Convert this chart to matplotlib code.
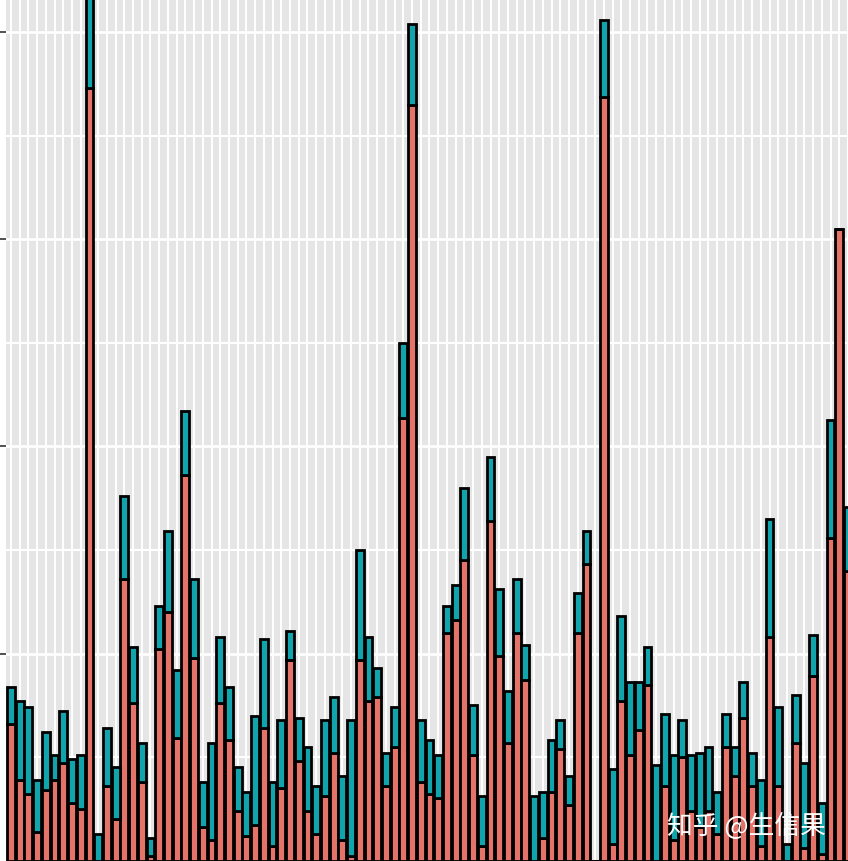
import matplotlib.pyplot as plt
import numpy as np

plt.rcParams['font.family'] = ['Noto Sans CJK SC', 'DejaVu Sans']

# stacked values for each sample (red lower part, teal upper part)
red_vals = [0.66, 0.39, 0.32, 0.14, 0.34, 0.39, 0.47, 0.28, 0.25, 3.73,
            0.00, 0.36, 0.20, 1.36, 0.76, 0.38, 0.02, 1.02, 1.20, 0.59,
            1.86, 0.98, 0.16, 0.10, 0.76, 0.58, 0.24, 0.12, 0.17, 0.64,
            0.07, 0.35, 0.97, 0.48, 0.24, 0.13, 0.31, 0.52, 0.10, 0.02,
            0.97, 0.77, 0.79, 0.36, 0.55, 2.14, 3.65, 0.38, 0.32, 0.30,
            1.10, 1.16, 1.45, 0.51, 0.07, 1.64, 0.99, 0.57, 1.10, 0.87,
            0.00, 0.11, 0.33, 0.54, 0.27, 1.10, 1.43, 0.00, 3.69, 0.08,
            0.77, 0.51, 0.63, 0.85, 0.00, 0.36, 0.10, 0.50, 0.24, 0.16,
            0.24, 0.13, 0.55, 0.41, 0.69, 0.36, 0.07, 1.08, 0.36, 0.00,
            0.57, 0.06, 0.89, 0.03, 1.56, 3.05, 1.40]
teal_vals = [0.18, 0.38, 0.42, 0.25, 0.28, 0.12, 0.25, 0.21, 0.26, 0.45,
             0.13, 0.28, 0.25, 0.40, 0.27, 0.19, 0.09, 0.21, 0.39, 0.33,
             0.31, 0.38, 0.22, 0.47, 0.32, 0.26, 0.21, 0.21, 0.53, 0.43,
             0.31, 0.33, 0.14, 0.21, 0.31, 0.23, 0.37, 0.27, 0.31, 0.66,
             0.53, 0.31, 0.14, 0.16, 0.19, 0.36, 0.39, 0.30, 0.26, 0.21,
             0.13, 0.17, 0.35, 0.24, 0.24, 0.31, 0.32, 0.25, 0.26, 0.17,
             0.31, 0.22, 0.25, 0.14, 0.14, 0.19, 0.16, 0.00, 0.37, 0.36,
             0.41, 0.35, 0.23, 0.18, 0.46, 0.35, 0.41, 0.18, 0.27, 0.36,
             0.31, 0.20, 0.16, 0.14, 0.17, 0.16, 0.32, 0.57, 0.38, 0.08,
             0.23, 0.41, 0.20, 0.25, 0.57, 0.00, 0.31]

red_color = '#E4736A'
teal_color = '#12A4AC'

W, H = 848, 861
fig = plt.figure(figsize=(W / 100, H / 100), dpi=100)

# panel: the picture is a crop, panel starts a few px from the left
left_px = 5.75
ax = fig.add_axes([left_px / W, 0, 1 - left_px / W, 1])
ax.set_facecolor('#E5E5E5')

x = np.arange(len(red_vals))
ax.bar(x, red_vals, width=0.9, color=red_color, edgecolor='black', linewidth=2.0, zorder=3)
ax.bar(x, teal_vals, width=0.9, bottom=red_vals, color=teal_color, edgecolor='black',
       linewidth=2.0, zorder=3)

step = 8.745  # px per category
ax.set_xlim(-0.6, -0.6 + (W - left_px) / step)
ax.set_ylim(-0.5 / 207, 860.5 / 207)

# grid lines like ggplot theme_gray
ax.set_xticks(x)
ax.set_yticks([1, 2, 3, 4])
ax.set_yticks([0.5, 1.5, 2.5, 3.5], minor=True)
ax.grid(True, axis='y', which='major', color='white', linewidth=1.9, zorder=1)
ax.grid(True, axis='y', which='minor', color='white', linewidth=1.5, zorder=1)
ax.grid(True, axis='x', which='major', color='white', linewidth=1.4, zorder=1)
ax.set_axisbelow(True)

ax.tick_params(axis='x', length=0, labelbottom=False)
ax.tick_params(axis='y', which='major', length=4.2, width=1.2, color='#333333',
               labelleft=False)
ax.tick_params(axis='y', which='minor', length=0)
for s in ax.spines.values():
    s.set_visible(False)

# watermark
fig.text(746 / W, 1 - 826 / H, '知乎 @生信果', color='white', fontsize=18.5,
         ha='center', va='center')

fig.savefig('out.png', dpi=100)
